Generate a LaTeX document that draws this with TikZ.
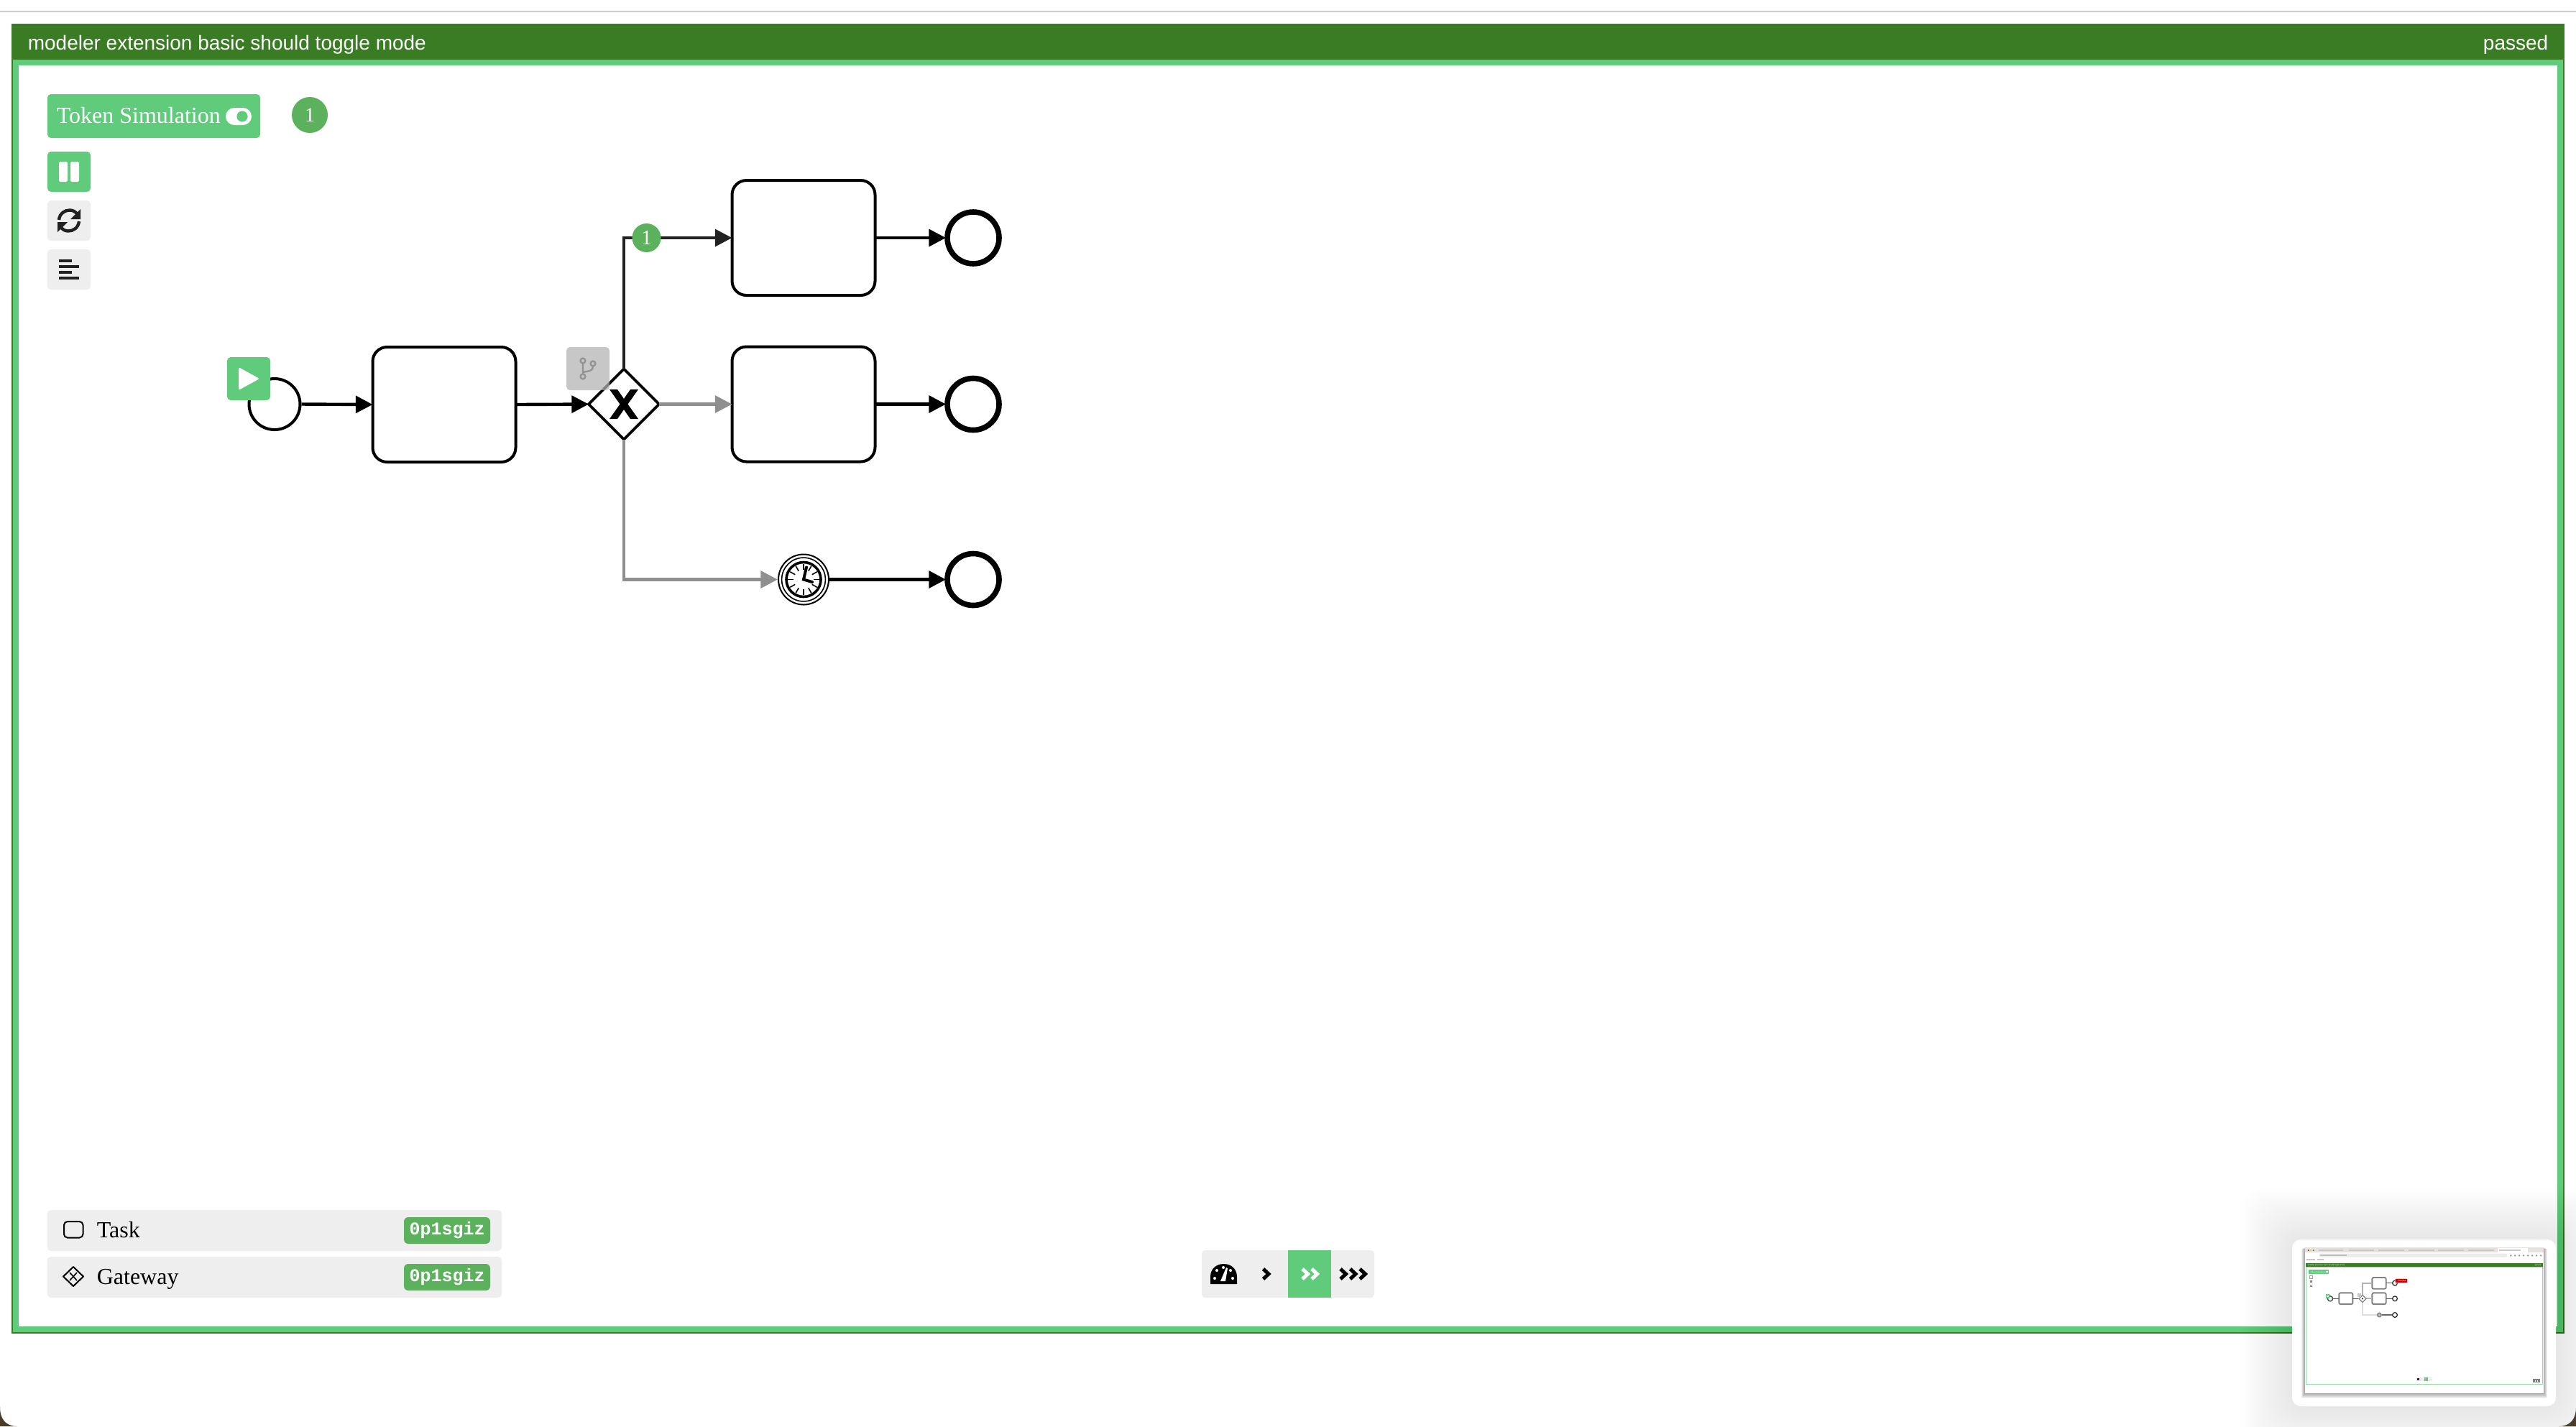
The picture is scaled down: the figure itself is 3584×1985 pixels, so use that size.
\documentclass[tikz,border=0pt]{standalone}
\usepackage{fontspec}
\setmainfont{Liberation Serif}
\newfontfamily\hdrfont{Liberation Sans}
\newfontfamily\tagfont{Liberation Mono}
\usetikzlibrary{arrows.meta,shapes.geometric}
\definecolor{darkgr}{HTML}{3A7C23}
\definecolor{lightgr}{HTML}{5FCB7B}
\definecolor{badgegr}{HTML}{5CB25C}
\definecolor{panel}{HTML}{EEEEEE}
\definecolor{flowgray}{HTML}{8F8F8F}
\definecolor{flowdark}{HTML}{212121}
\definecolor{corner}{HTML}{4A3C2A}
\definecolor{thumbbar}{HTML}{E8E0DC}
\tikzset{
  flow/.style={line width=1.1pt,-{Triangle[length=5.9pt,width=5.9pt]}},
  flowblack/.style={flow,draw=black},
  flowactive/.style={flow,draw=flowdark},
  flowidle/.style={flow,draw=flowgray},
  taskbox/.style={draw=black,fill=white,line width=1pt,rounded corners=5pt,minimum width=49.75pt,minimum height=40pt,inner sep=0pt,outer sep=0pt},
  startev/.style={circle,draw=black,fill=white,line width=1pt,minimum size=17.75pt,inner sep=0pt,outer sep=.5pt},
  endev/.style={circle,draw=black,fill=white,line width=1.9pt,minimum size=18pt,inner sep=0pt,outer sep=.5pt},
  gate/.style={diamond,shape aspect=1,draw=black,fill=white,line width=.9pt,minimum width=24.5pt,minimum height=24.5pt,inner sep=0pt,outer sep=0pt},
  timerev/.style={circle,draw=black,fill=white,line width=.5pt,minimum size=17.5pt,inner sep=0pt,outer sep=.25pt},
  countbadge/.style={circle,fill=badgegr,text=white,minimum size=10pt,inner sep=0pt,font=\fontsize{7.25pt}{8pt}\selectfont},
  idtag/.style={fill=badgegr,text=white,rounded corners=1.5pt,minimum width=30pt,minimum height=9.25pt,inner sep=0pt,font=\tagfont\bfseries\fontsize{6.25pt}{7pt}\selectfont},
  rowtext/.style={anchor=base west,inner sep=0pt,font=\fontsize{8pt}{9pt}\selectfont},
  paneltile/.style={fill=panel,rounded corners=1.25pt},
  greentile/.style={fill=lightgr,rounded corners=1.25pt},
  iconline/.style={line width=1.1pt,draw=flowdark},
  chev/.style={line width=1.25pt,miter limit=10},
  thumbline/.style={line width=.35pt,draw=black!70},
}
\begin{document}
\begin{tikzpicture}[x=0.25pt,y=-0.25pt]
\useasboundingbox (0,0) rectangle (3584,1985);
\fill[white] (0,0) rectangle (3584,1985);
% top rule
\fill[black!20] (0,15) rectangle (3584,17);
% frame
\fill[darkgr] (16,33) rectangle (3568,1856);
\fill[lightgr] (18,83) rectangle (3566,1854);
\fill[white] (26,91) rectangle (3558,1846);
\node[anchor=base west,inner sep=0pt,text=white,font=\hdrfont\fontsize{7pt}{8pt}\selectfont] (title) at (38,69) {modeler extension basic should toggle mode};
\node[anchor=base east,inner sep=0pt,text=white,font=\hdrfont\fontsize{7pt}{8pt}\selectfont] (status) at (3546,69) {passed};
% token simulation button
\fill[greentile] (66,131) rectangle (362,192);
\node[anchor=base west,inner sep=0pt,text=white,font=\fontsize{8pt}{9pt}\selectfont] (tokensim) at (78,171.5) {Token Simulation};
\fill[white,rounded corners=3pt] (314,150) rectangle (350,174);
\fill[lightgr] (337,162) circle[radius=1.9pt];
\node[countbadge,minimum size=12.5pt,font=\fontsize{7pt}{8pt}\selectfont] (count) at (431,160) {1};
% side buttons
\fill[greentile] (66,211) rectangle (126,267);
\fill[white,rounded corners=.6pt] (82,225) rectangle (94,253);
\fill[white,rounded corners=.6pt] (98,225) rectangle (110,253);
\fill[paneltile] (66,279) rectangle (126,335);
\draw[iconline] (82,306) .. controls (83,297) and (90,292.5) .. (97,292.5) .. controls (101,292.5) and (105,294) .. (108,299);
\fill[flowdark] (112,291) -- (112,305) -- (98,305) -- cycle;
\draw[iconline] (110,308) .. controls (109,317) and (102,321.5) .. (95,321.5) .. controls (91,321.5) and (87,320) .. (84,315);
\fill[flowdark] (80,323) -- (80,309) -- (94,309) -- cycle;
\fill[paneltile] (66,347) rectangle (126,403);
\fill[flowdark] (82,361) rectangle (100,365);
\fill[flowdark] (82,369) rectangle (110,373);
\fill[flowdark] (82,377) rectangle (100,381);
\fill[flowdark] (82,385) rectangle (110,389);
% diagram nodes
\node[startev] (start) at (382,562.5) {};
\node[taskbox] (task1) at (618,563) {};
\node[taskbox] (task2) at (1118,331) {};
\node[taskbox] (task3) at (1118,562.5) {};
\node[gate] (gw) at (868,562.5) {};
\node[timerev] (timer) at (1118,806.5) {};
\node[endev] (end1) at (1354,331) {};
\node[endev] (end2) at (1354,562.5) {};
\node[endev] (end3) at (1354,806.5) {};
% connectors
\draw[flowblack] (start.east) -- (task1.west);
\draw[flowblack] (task1.east) -- (gw.west);
\draw[flowactive] (gw.north) |- (task2.west);
\draw[flowidle] (gw.east) -- (task3.west);
\draw[flowidle] (gw.south) |- (timer.west);
\draw[flowblack] (task2.east) -- (end1.west);
\draw[flowblack] (task3.east) -- (end2.west);
\draw[flowblack] (timer.east) -- (end3.west);
% gateway marker
\begin{scope}[shift={(gw.center)}]
\fill[black] (-20,-20.5) -- (-9,-20.5) -- (0,-7.5) -- (9,-20.5) -- (20,-20.5) -- (5.5,0) -- (20,20.5) -- (9,20.5) -- (0,7.5) -- (-9,20.5) -- (-20,20.5) -- (-5.5,0) -- cycle;
\end{scope}
% timer marker
\begin{scope}[shift={(timer.center)}]
\draw[line width=.4pt] (0,0) circle[radius=7.6pt];
\draw[line width=.9pt] (0,0) circle[radius=6pt];
\foreach \a in {0,30,...,330}{\draw[line width=.4pt] (\a:3.4pt) -- (\a:5.4pt);}
\draw[line width=1pt,line cap=round,line join=miter] (4,-17) -- (0,0) -- (12,3.5);
\end{scope}
% token on flow
\node[countbadge] (flowtoken) at (899.5,331) {1};
% play button
\fill[greentile] (316,497) rectangle (376,557);
\fill[white,rounded corners=.6pt] (332,511) -- (361,527) -- (332,543) -- cycle;
% exclusive decision button
\fill[fill=black!30,fill opacity=.72,rounded corners=1.25pt] (788,483) rectangle (848,543);
\begin{scope}[draw=black!42]
\draw[line width=.6pt] (811,502) circle[radius=.85pt];
\draw[line width=.6pt] (825,506) circle[radius=.85pt];
\draw[line width=.6pt] (811,524) circle[radius=.85pt];
\draw[line width=.6pt] (811,506) -- (811,520) (825,510) .. controls (824,518) and (818,516) .. (811,518);
\end{scope}
% legend
\fill[paneltile] (66,1684) rectangle (698,1741);
\fill[paneltile] (66,1749) rectangle (698,1806);
\draw[line width=.5pt,rounded corners=1.25pt] (89,1700) rectangle (115.5,1722.5);
\node[rowtext] (ltask) at (134,1722.5) {Task};
\node[idtag] (tag1) at (622,1712.5) {0p1sgiz};
\draw[line width=.5pt,line join=round] (102,1763) -- (116,1776.5) -- (102,1790) -- (88,1776.5) -- cycle;
\draw[line width=.4pt] (97,1771) -- (107,1782) (107,1771) -- (97,1782);
\node[rowtext] (lgate) at (134,1787) {Gateway};
\node[idtag] (tag2) at (622,1777.5) {0p1sgiz};
% speed selector
\fill[paneltile] (1672,1740) rectangle (1912,1806);
\fill[lightgr] (1792,1740) rectangle (1852,1806);
\fill[black] (1684,1787) -- (1684,1777) .. controls (1684,1766) and (1692,1759) .. (1702.5,1759) .. controls (1713,1759) and (1721,1766) .. (1721,1777) -- (1721,1787) -- cycle;
\fill[white] (1690,1779) circle[radius=.5pt] (1693,1768) circle[radius=.5pt] (1702,1764) circle[radius=.5pt] (1712,1768) circle[radius=.5pt] (1715,1779) circle[radius=.5pt];
\fill[white] (1698,1783) -- (1706,1764) -- (1708,1765) -- (1705,1783) -- cycle;
\draw[chev] (1757.5,1766) -- (1765,1773) -- (1757.5,1780);
\draw[chev,white] (1812,1766) -- (1819.5,1773) -- (1812,1780) (1825,1766) -- (1832.5,1773) -- (1825,1780);
\draw[chev] (1865,1766) -- (1872.5,1773) -- (1865,1780) (1878.5,1766) -- (1886,1773) -- (1878.5,1780) (1892,1766) -- (1899.5,1773) -- (1892,1780);
% preview card shadow
\foreach \i in {1,2,...,24}{
  \fill[black,fill opacity=.0032,rounded corners=8pt] (3189-\i*3,1725-\i*3) rectangle (3556+\i*3,1957+\i*3);
}
\fill[white,rounded corners=3pt] (3189,1725) rectangle (3556,1957);
% preview contents, in crop coordinates
\begin{scope}[shift={(3160,1700)},x=0.08333pt,y=-0.08333pt]
\foreach \i in {1,2,...,7}{
  \fill[black,fill opacity=.05] (140-\i*2,108+\i) rectangle (1138+\i*2,717+\i*3);
}
\fill[white] (140,108) rectangle (1138,717);
\fill[thumbbar] (140,108) rectangle (1138,128);
\fill[red!70!black] (155,120) circle[radius=.25pt];
\fill[yellow!70!orange] (165,120) circle[radius=.25pt];
\fill[green!60!black] (176,120) circle[radius=.25pt];
\fill[white] (945,112) rectangle (1070,128);
\foreach \a/\b in {198/300,323/428,448/555,572/680,697/805,822/930,950/1040}{
  \fill[black!22] (\a,118) rectangle (\b,123);
}
\fill[black!8,rounded corners=.5pt] (200,134) rectangle (985,149);
\fill[black!25] (205,139) rectangle (315,144);
\foreach \a in {1000,1017,1035,1053,1071,1089,1107,1125}{\fill[black!40] (\a,142) circle[radius=.35pt];}
\fill[black!22] (148,157) rectangle (182,162);
\fill[black!22] (192,157) rectangle (218,162);
\fill[darkgr] (144,175) rectangle (1133,190);
\fill[lightgr!70] (144,190) rectangle (1133,682);
\fill[white] (147,191) rectangle (1130,679);
\node[anchor=base west,inner sep=0pt,text=white,font=\hdrfont\fontsize{.65pt}{.8pt}\selectfont] (thtitle) at (150,185) {modeler extension basic should toggle mode};
\node[anchor=base east,inner sep=0pt,text=white,font=\hdrfont\fontsize{.65pt}{.8pt}\selectfont] (thstatus) at (1128,185) {passed};
\fill[lightgr] (157,201) rectangle (240,219);
\node[anchor=base west,inner sep=0pt,text=white,font=\fontsize{.75pt}{.9pt}\selectfont] (thsim) at (161,213) {Token Simulation};
\fill[white] (227,206) rectangle (236,214);
\fill[lightgr] (159,224) rectangle (175,240);
\fill[white] (162,228) rectangle (171,236);
\fill[panel] (159,243) rectangle (175,258);
\fill[black!45] (163,247) rectangle (171,254);
\fill[panel] (159,262) rectangle (175,277);
\fill[black!45] (163,266) rectangle (170,273);
\draw[thumbline] (246,322) circle[radius=.9pt];
\fill[lightgr] (228,304) rectangle (244,320);
\fill[white] (232,308) rectangle (240,316);
\foreach \cx/\cy/\w/\h in {283/298/340/345,421/234/479/281,421/298/479/345}{
  \draw[line width=.45pt,draw=black!50,fill=white,rounded corners=.5pt] (\cx,\cy) rectangle (\w,\h);
}
\draw[thumbline] (257,322) -- (283,322) (340,322) -- (366,322);
\draw[line width=.45pt,draw=black!30] (381,307) -- (381,257) -- (421,257) (396,322) -- (421,322);
\draw[line width=.45pt,draw=black!13] (381,337) -- (381,390) -- (440,390);
\draw[thumbline] (479,257) -- (506,257) (479,322) -- (506,322);
\draw[line width=.5pt,draw=black!60] (462,390) -- (506,390);
\draw[thumbline,draw=black!45,fill=white] (381,307) -- (396,322) -- (381,337) -- (366,322) -- cycle;
\fill[black!80] (381,322) circle[radius=.3pt];
\fill[black!22] (359,300) rectangle (375,316);
\fill[black!45] (451,390) circle[radius=.9pt];
\fill[white!80!black] (451,390) circle[radius=.4pt];
\foreach \cy in {257,322,390}{\draw[line width=.3pt,draw=black!85,fill=white] (516,\cy) circle[radius=.85pt];}
\fill[red!80!black,draw=white,line width=.1pt,rounded corners=.2pt] (518,238) rectangle (568,256);
\node[anchor=base west,inner sep=0pt,text=white,font=\hdrfont\fontsize{.7pt}{.8pt}\selectfont] (thfin) at (528,250) {Finished};
\fill[panel] (605,650) rectangle (672,667);
\fill[lightgr] (638,650) rectangle (655,667);
\fill[black!85] (608,654) rectangle (618,663);
\fill[black!50] (1092,658) rectangle (1122,672);
\fill[white] (1100,662) rectangle (1104,668);
\fill[white] (1110,662) rectangle (1114,668);
\end{scope}
% window corners
\fill[corner] (0,1985) -- (0,1958) .. controls (0,1975) and (8,1985) .. (24,1985) -- cycle;
\fill[corner] (3584,1985) -- (3584,1958) .. controls (3584,1975) and (3576,1985) .. (3560,1985) -- cycle;
\end{tikzpicture}
\end{document}
